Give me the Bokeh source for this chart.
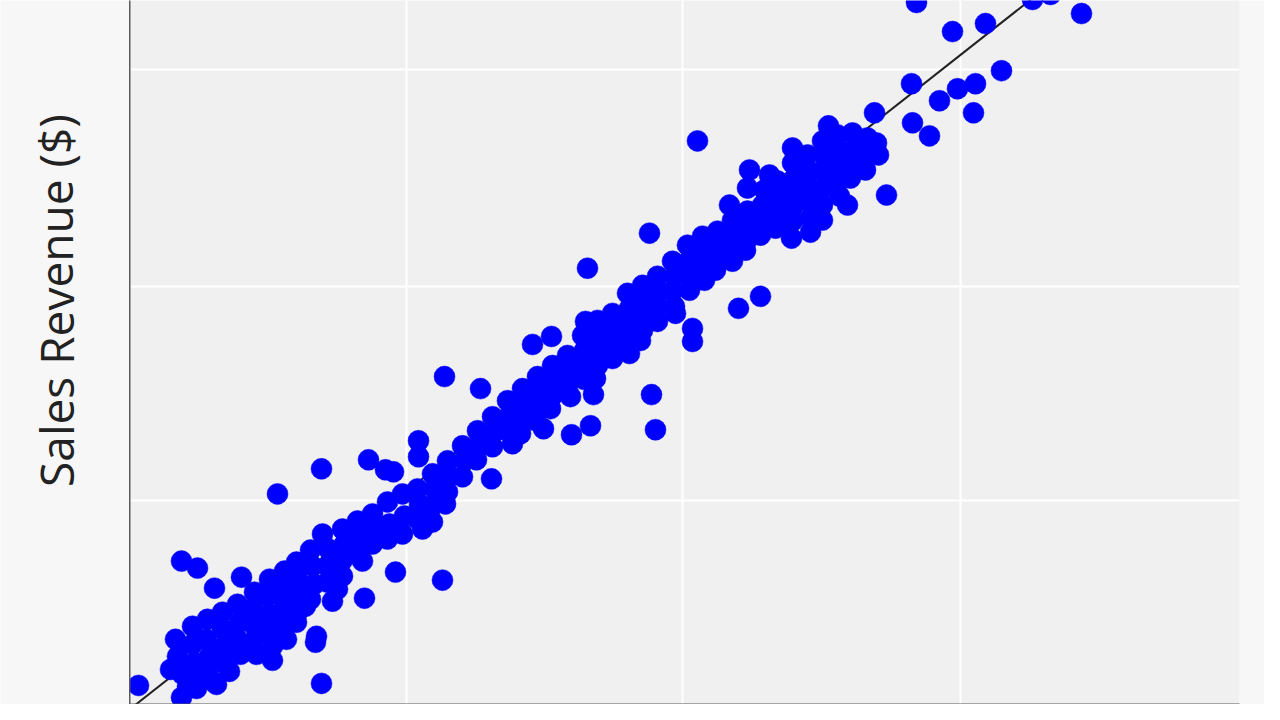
from bokeh.plotting import figure
from bokeh.layouts import row
from bokeh.models import Range1d, FixedTicker
from bokeh.core.properties import value
from bokeh.embed import file_html
from bokeh.resources import INLINE

# Advertising spend (x, $k) and sales revenue (y, $k)
spend = [
    0.9, 4.1, 5.2, 5.2, 6.8, 8.5, 11.2, 14.8, 19.2, 23.9, 25.6, 28.9, 28.9, 26.6, 31.3,
    23.5, 20.3, 18.7, 18.6, 19.2, 14.3, 31.5, 35.1, 36.2, 40.3, 42.2, 45.6, 45.8, 52.0,
    41.4, 44.2, 46.1, 52.2, 52.6, 56.3, 56.3, 60.9, 63.1, 56.8, 62.0, 66.3, 69.9, 71.8,
    75.7, 74.5, 78.3, 80.0, 78.2, 81.0, 82.8, 84.6, 84.4, 87.2, 78.7, 82.3, 85.6, 90.3,
    92.1, 95.2, 46.4, 68.1, 66.2, 69.3, 64.0, 60.0, 6.7, 8.7, 26.4,
    4.6, 4.8, 5.3, 5.8,
    6.3, 6.3, 6.5, 6.7,
    7.8, 7.7, 8.0, 7.8, 8.5,
    9.3, 9.3, 9.5, 9.3, 10.0,
    10.8, 11.0, 10.8, 11.1,
    12.5, 12.3, 12.5, 12.3, 12.7,
    14.0, 13.8, 14.0, 13.8, 14.3,
    15.5, 15.3, 15.5, 15.3, 15.7,
    16.7, 16.8, 17.0, 16.8, 16.7,
    18.1, 18.3, 18.5, 18.1, 17.6,
    19.3, 19.9, 19.8, 19.8, 20.8,
    21.3, 21.5, 21.3, 21.3,
    22.8, 23.0, 22.8, 23.3,
    24.3, 24.5, 24.3,
    25.8, 26.0, 25.8,
    27.3, 27.5, 27.3,
    28.8, 29.0, 28.8, 29.3,
    30.3, 30.5, 30.3, 30.3,
    31.8, 32.0, 31.8, 31.6,
    33.3, 33.5, 33.3,
    34.8, 35.0, 34.7,
    36.3, 36.5, 36.3,
    37.8, 38.0, 37.8, 38.3,
    39.3, 39.5, 39.3, 39.1,
    40.8, 41.0, 40.8, 40.6,
    42.3, 42.5, 42.3, 42.1,
    43.8, 44.0, 43.8, 44.1,
    45.3, 45.5, 45.3, 45.5,
    46.8, 47.0, 46.8, 46.8, 46.6,
    48.3, 48.5, 48.3, 48.3,
    49.8, 50.0, 49.8, 49.8, 50.0,
    51.3, 51.5, 51.3, 51.3, 51.1,
    52.8, 53.0, 52.8, 52.8,
    54.3, 54.5, 54.3, 54.5, 54.6,
    55.8, 56.0, 55.8, 56.0,
    57.3, 57.5, 57.3, 57.5,
    58.8, 59.0, 58.8, 58.6,
    60.3, 60.5, 60.3, 60.3,
    61.8, 61.8, 62.0, 61.8, 61.6,
    63.5, 63.3, 63.3, 63.1,
    64.8, 65.0, 64.8, 64.6,
    66.3, 66.5, 66.3, 66.3, 66.3,
    67.8, 68.0, 67.8, 67.8, 68.1,
    69.3, 69.5, 69.3, 69.3, 69.3,
    70.8, 71.0, 70.8, 70.8, 71.0,
    72.3, 72.5, 72.3, 72.1,
    73.8, 74.0, 73.6,
    74.7, 74.9,
]
revenue = [
    2.7, 4.3, 1.5, 15.1, 14.4, 12.4, 13.5, 21.8, 24.3, 25.2, 24.2, 27.1, 25.5, 14.0, 13.2,
    11.4, 11.1, 7.6, 7.0, 2.9, 5.2, 33.5, 32.3, 23.3, 36.7, 37.5, 39.0, 44.3, 47.8,
    28.3, 27.7, 28.6, 31.7, 28.2, 38.3, 37.0, 40.3, 41.5, 57.0, 54.1, 56.3, 58.5, 50.6,
    51.6, 59.8, 58.8, 57.5, 62.7, 61.0, 62.2, 62.7, 59.8, 64.0, 70.8, 67.9, 68.7, 71.1,
    71.6, 69.7, 31.7, 47.9, 47.3, 49.1, 53.6, 50.6, 2.4, 2.8, 24.0,
    7.3, 5.6, 3.8, 2.6,
    8.6, 6.8, 5.0, 3.3,
    9.3, 7.3, 5.6, 4.0, 3.0,
    10.0, 8.3, 6.6, 5.0, 4.1,
    10.8, 9.0, 7.3, 5.8,
    12.0, 10.3, 8.6, 7.0, 5.8,
    13.3, 11.6, 9.8, 8.0, 6.6,
    14.1, 12.3, 10.6, 8.8, 7.3,
    15.0, 13.3, 11.6, 10.0, 9.0,
    16.2, 14.6, 12.8, 11.3, 10.6,
    17.8, 16.3, 14.6, 13.0, 12.3,
    18.3, 16.8, 15.2, 13.6,
    19.1, 17.6, 16.1, 15.1,
    19.8, 18.3, 16.8,
    21.0, 18.8, 17.3,
    21.8, 19.6, 17.8,
    22.3, 20.8, 19.3, 18.3,
    23.8, 22.3, 20.6, 19.0,
    25.1, 23.6, 22.0, 20.8,
    26.6, 25.1, 23.5,
    28.1, 26.6, 25.2,
    29.5, 28.0, 26.5,
    31.1, 29.6, 28.1, 26.8,
    32.3, 30.8, 29.3, 27.8,
    33.5, 32.0, 30.5, 29.1,
    34.6, 33.1, 31.6, 30.3,
    35.6, 34.1, 32.6, 31.5,
    37.6, 36.1, 34.6, 33.2,
    39.1, 37.6, 36.1, 34.6, 33.3,
    39.8, 38.3, 36.8, 35.3,
    41.8, 40.3, 38.8, 37.3, 35.8,
    42.6, 41.1, 39.6, 38.1, 37.1,
    43.5, 42.0, 40.5, 39.0,
    45.0, 43.5, 42.0, 40.5, 39.8,
    46.6, 45.1, 43.6, 42.1,
    47.5, 46.0, 44.5, 43.1,
    48.0, 46.6, 45.2, 44.1,
    49.1, 47.8, 46.3, 45.0,
    52.3, 50.0, 48.6, 47.2, 46.1,
    52.1, 50.6, 49.1, 47.6,
    53.0, 51.5, 50.0, 48.3,
    54.8, 53.3, 51.8, 50.3, 49.0,
    55.6, 54.0, 52.5, 51.0, 49.3,
    57.0, 55.5, 54.0, 52.3, 50.6,
    57.6, 56.1, 54.6, 53.0, 51.5,
    57.8, 56.3, 54.8, 53.3,
    57.3, 55.8, 54.1,
    56.8, 55.6,
]

# Trend line
trend_x = [0.0, 92.3]
trend_y = [0.3, 72.8]

x_grid = [27.7, 55.3, 83.1]
y_grid = [21.1, 42.5, 64.1]
y_title = "Sales Revenue ($)"

BORDER = "#f7f7f7"

# narrow panel that carries the y-axis title
lab = figure(width=129, height=704, output_backend="svg", toolbar_location=None,
             x_range=Range1d(0, 129), y_range=Range1d(0, 704),
             min_border=0)
lab.axis.visible = False
lab.grid.visible = False
lab.outline_line_color = None
lab.background_fill_color = BORDER
lab.border_fill_color = BORDER
lab.text(x=[55], y=[404], text=[y_title], angle=1.5708, text_align="center",
         text_baseline="middle", text_font=value("Open Sans"),
         text_font_size="46px", text_color="#222222")

p = figure(width=1135, height=704, output_backend="svg", toolbar_location=None,
           x_range=Range1d(0, 111), y_range=Range1d(0.8, 71.0),
           min_border_left=0, min_border_right=25, min_border_top=0,
           min_border_bottom=0)
p.background_fill_color = "#f0f0f0"
p.border_fill_color = BORDER
p.outline_line_color = None

for ax in (p.xaxis[0], p.yaxis[0]):
    ax.ticker = FixedTicker(ticks=[])
    ax.major_tick_out = 0
    ax.major_tick_in = 0
    ax.minor_tick_out = 0
    ax.minor_tick_in = 0
    ax.major_label_standoff = 0
    ax.axis_line_color = "#5a5a5a"
    ax.axis_line_width = 2
p.xgrid.ticker = FixedTicker(ticks=x_grid)
p.ygrid.ticker = FixedTicker(ticks=y_grid)
p.xgrid.grid_line_color = "white"
p.ygrid.grid_line_color = "white"
p.xgrid.grid_line_width = 2
p.ygrid.grid_line_width = 2

p.line(trend_x, trend_y, line_color="#222222", line_width=2)
p.scatter(spend, revenue, size=21, fill_color="#0000ff", line_color="#0000ff",
          line_width=0.5)

layout = row(lab, p)
open("out.html", "w").write(file_html(layout, INLINE))
